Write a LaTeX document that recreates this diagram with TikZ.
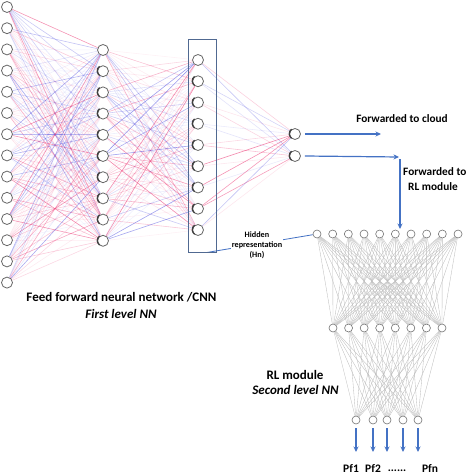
\documentclass[tikz,border=0pt]{standalone}
\usepackage{fontspec}
\setmainfont{Carlito}
\usetikzlibrary{arrows.meta,backgrounds}
\definecolor{nnpink}{RGB}{236,64,122}
\definecolor{nnblue}{RGB}{90,90,225}
\definecolor{arrblue}{RGB}{68,114,196}
\definecolor{boxcol}{RGB}{80,105,145}
\definecolor{rlgray}{RGB}{190,190,190}
\tikzset{
  nnode/.style={circle, draw=black!60, fill=white, line width=0.8pt, minimum size=11pt, inner sep=0pt},
  rlnode/.style={circle, draw=black!55, fill=white, line width=0.6pt, minimum size=8pt, inner sep=0pt},
  arr/.style={draw=arrblue, line width=1.2pt, -{Stealth[length=5.5pt,width=5pt]}},
  shade/.style={draw=black!75, line width=1.3pt},
  rledge/.style={draw=rlgray, line width=0.35pt},
  biglbl/.style={font=\bfseries\fontsize{13}{15}\selectfont, inner sep=0pt},
  biglbli/.style={font=\bfseries\itshape\fontsize{13}{15}\selectfont, inner sep=0pt},
  fwdlbl/.style={font=\bfseries\fontsize{11.3}{13}\selectfont, inner sep=0pt},
  pflbl/.style={font=\bfseries\fontsize{11.5}{13}\selectfont, inner sep=0pt},
}
\begin{document}
\begin{tikzpicture}[x=1pt,y=-1pt]
\useasboundingbox (0,0) rectangle (474,476);
\pgfmathsetseed{11}
% first level NN nodes
\foreach \i in {0,...,13} \node[nnode] (a\i) at (7,7+21.2*\i) {};
\foreach \i in {0,...,9} \node[nnode] (b\i) at (103,50+21.2*\i) {};
\foreach \i in {0,...,8} \node[nnode] (c\i) at (198,60+21.25*\i) {};
\node[nnode] (d0) at (295,134) {};
\node[nnode] (d1) at (295,156) {};
\node[draw=boxcol, line width=0.9pt, minimum width=28pt, minimum height=213pt, inner sep=0pt] (box) at (202,145.5) {};
% shading on hidden nodes
\foreach \i in {1,...,9} \draw[shade] (b\i.125) arc[start angle=125, end angle=235, radius=5.5pt];
\foreach \i in {1,...,8} \draw[shade] (c\i.125) arc[start angle=125, end angle=235, radius=5.5pt];
\foreach \i in {0,1} \draw[shade] (d\i.125) arc[start angle=125, end angle=235, radius=5.5pt];
% RL module nodes
\foreach \i in {0,...,9} \node[rlnode] (r\i) at (317+15.67*\i,234) {};
\foreach \i in {0,...,7} \node[rlnode] (m\i) at (333+15.57*\i,328) {};
\foreach \x [count=\k from 0] in {356,373,387,403,418} \node[rlnode] (o\k) at (\x,420) {};
% edges
\begin{pgfonlayer}{background}
\foreach \i in {0,...,13} \foreach \j in {0,...,9} {
  \pgfmathsetmacro\cc{rnd}
  \pgfmathsetmacro\rr{rnd}
  \pgfmathsetmacro\op{0.07+0.55*\rr*\rr}
  \ifdim\cc pt<0.4pt \def\col{nnblue}\else\def\col{nnpink}\fi
  \draw[draw=\col, draw opacity=\op, line width=0.6pt] (a\i) -- (b\j);
}
\foreach \i in {0,...,9} \foreach \j in {0,...,8} {
  \pgfmathsetmacro\cc{rnd}
  \pgfmathsetmacro\rr{rnd}
  \pgfmathsetmacro\op{0.07+0.55*\rr*\rr}
  \ifdim\cc pt<0.4pt \def\col{nnblue}\else\def\col{nnpink}\fi
  \draw[draw=\col, draw opacity=\op, line width=0.6pt] (b\i) -- (c\j);
}
\foreach \i in {0,...,8} \foreach \j in {0,1} {
  \pgfmathsetmacro\cc{rnd}
  \pgfmathsetmacro\rr{rnd}
  \pgfmathsetmacro\op{0.12+0.5*\rr}
  \ifdim\cc pt<0.4pt \def\col{nnblue}\else\def\col{nnpink}\fi
  \draw[draw=\col, draw opacity=\op, line width=0.6pt] (c\i) -- (d\j);
}
\foreach \i in {0,...,9} \foreach \j in {0,...,7} \draw[rledge] (r\i) -- (m\j);
\foreach \i in {0,...,7} \foreach \j in {0,...,4} \draw[rledge] (m\i) -- (o\j);
\draw[draw=arrblue, line width=0.8pt] ([xshift=5pt]box.south) -- (r0);
\end{pgfonlayer}
% hidden representation label
\node[font=\bfseries\fontsize{8.2}{10}\selectfont, align=center, fill=white, inner sep=1pt] (hid) at (257,245) {Hidden\\representation\\(Hn)};
% forward arrows
\coordinate (cloudend) at (381,134);
\coordinate (rlcorner) at (399,157);
\coordinate (rlstart) at (400,159);
\coordinate (rlend) at (400,229);
\draw[arr] ([xshift=4pt]d0.east) -- (cloudend);
\draw[arr] ([xshift=4pt]d1.east) -- (rlcorner);
\draw[arr] (rlstart) -- (rlend);
\node[fwdlbl] (fcloud) at (402,119) {Forwarded to cloud};
\node[fwdlbl, anchor=west] (frl1) at (403,172) {Forwarded to};
\node[fwdlbl] (frl2) at (433,187) {RL module};
% output arrows
\foreach \k in {0,...,4} {
  \coordinate (pe\k) at ([yshift=-32pt]o\k.center);
  \draw[arr] ([yshift=-4pt]o\k.south) -- (pe\k);
}
\node[pflbl] (pf1) at (351,468) {Pf1};
\node[pflbl] (pf2) at (373,468) {Pf2};
\node[pflbl] (pfd) at (397,471) {......};
\node[pflbl] (pfn) at (430,468) {Pfn};
% titles
\node[biglbl] (t1) at (121.5,297) {Feed forward neural network /CNN};
\node[biglbli] (t2) at (121,314) {First level NN};
\node[biglbl] (t3) at (295,375) {RL module};
\node[biglbli] (t4) at (295.5,390) {Second level NN};
\end{tikzpicture}
\end{document}
